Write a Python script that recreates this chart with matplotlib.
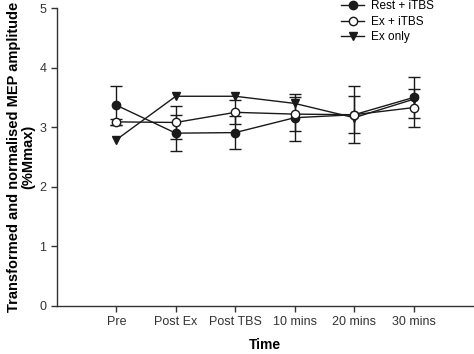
import matplotlib
matplotlib.use("Agg")
import matplotlib.pyplot as plt
import numpy as np

plt.rcParams['font.family'] = ['Liberation Sans', 'DejaVu Sans']

time_points = ['Pre', 'Post Ex', 'Post TBS', '10 mins', '20 mins', '30 mins']

rest_itbs = [3.37, 2.90, 2.91, 3.16, 3.21, 3.50]
rest_itbs_err = [0.33, 0.30, 0.28, 0.39, 0.48, 0.35]

ex_itbs = [3.09, 3.08, 3.25, 3.22, 3.21, 3.33]
ex_itbs_err = [0.05, 0.28, 0.20, 0.29, 0.31, 0.32]

ex_only = [2.79, 3.52, 3.52, 3.40, 3.16, 3.47]

x = np.arange(1, len(time_points) + 1)

fig = plt.figure(figsize=(4.74, 3.54), dpi=100)
ax = fig.add_axes([0.120, 0.136, 0.878, 0.841])

lw = 1.0
ink = '#1a1a1a'
l1, _, _ = ax.errorbar(x, rest_itbs, yerr=rest_itbs_err, color=ink, marker='o',
                       markersize=6, lw=lw, elinewidth=lw, capsize=4, capthick=lw,
                       zorder=3)
l2, _, _ = ax.errorbar(x, ex_itbs, yerr=ex_itbs_err, color=ink, marker='o',
                       markerfacecolor='white', markeredgecolor=ink,
                       markeredgewidth=1.0, markersize=6, lw=lw, elinewidth=lw,
                       capsize=4, capthick=lw, zorder=4)
l3, = ax.plot(x, ex_only, color=ink, marker='v', markersize=6, lw=lw, zorder=3)

ax.set_xlim(0, 7)
ax.set_ylim(0, 5)
ax.set_xticks(x)
ax.set_xticklabels(time_points)
ax.set_yticks(range(6))
ax.spines['top'].set_visible(False)
ax.spines['right'].set_visible(False)
for s in ['left', 'bottom']:
    ax.spines[s].set_color('#333333')
    ax.spines[s].set_linewidth(1.0)
ax.tick_params(direction='out', length=4, width=1.0, colors='#333333',
               labelsize=9, labelcolor='#333333')

ax.set_xlabel('Time', fontsize=10, fontweight='bold', labelpad=7)
ax.set_ylabel('Transformed and normalised MEP amplitude\n(%Mmax)',
              fontsize=10.5, fontweight='bold', labelpad=3, linespacing=1.0)

ax.legend([l1, l2, l3], ['Rest + iTBS', 'Ex + iTBS', 'Ex only'],
          loc='upper left', bbox_to_anchor=(0.665, 1.05), frameon=False,
          fontsize=8.5, handlelength=2.0, handletextpad=0.6,
          labelspacing=0.3, borderaxespad=0.2)

fig.savefig('out.png', dpi=100)
